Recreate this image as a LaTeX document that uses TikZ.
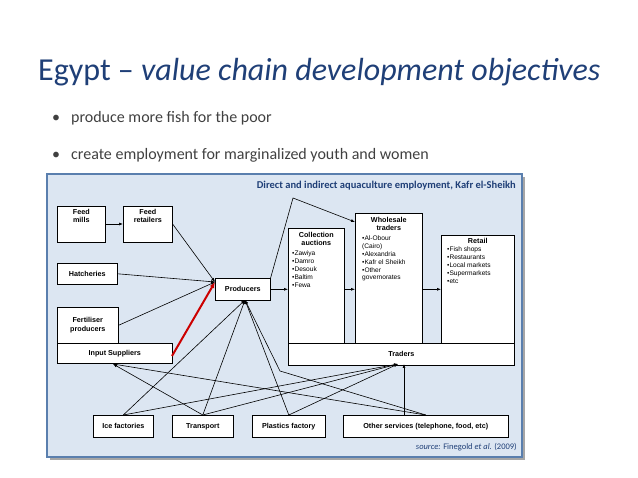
\documentclass[tikz,border=0pt]{standalone}
\usepackage{fontspec}
\setmainfont{Carlito}
\newfontfamily\arialf{Liberation Sans}
\usetikzlibrary{arrows.meta}
\definecolor{titleblue}{HTML}{1F3F77}
\definecolor{panelfill}{HTML}{DCE6F2}
\definecolor{panelline}{HTML}{5A7FAE}
\definecolor{bodygray}{HTML}{404040}
\begin{document}
\begin{tikzpicture}[x=1pt,y=-1pt,
  bx/.style={draw=black,fill=white,line width=0.6pt,font=\arialf\bfseries\fontsize{7.2}{8.4}\selectfont,align=center,inner sep=1pt},
  lb/.style={font=\arialf\bfseries\fontsize{7.2}{8.4}\selectfont,align=center,inner sep=0pt,anchor=north},
  ar/.style={draw=black,line width=0.6pt,-{Latex[length=4pt,width=3pt]}},
  lst/.style={font=\arialf\fontsize{6.6}{7.8}\selectfont,align=left,anchor=north west,inner sep=0pt}]
\useasboundingbox (0,0) rectangle (638,478);
\node[anchor=west,text=titleblue,font=\fontsize{32}{35}\selectfont,inner sep=0pt] (title) at (38,72) {Egypt -- \textit{value chain development objectives}};
\node[anchor=west,text=bodygray,font=\fontsize{16}{19}\selectfont,inner sep=0pt] (b1) at (52,118) {\textbullet\hspace{11pt}produce more fish for the poor};
\node[anchor=west,text=bodygray,font=\fontsize{16}{19}\selectfont,inner sep=0pt] (b2) at (52,155) {\textbullet\hspace{11pt}create employment for marginalized youth and women};
% panel
\fill[black!35] (50,177) rectangle (525,460);
\draw[fill=panelfill,draw=panelline,line width=1.2pt] (47,174) rectangle (522,457);
\node[anchor=east,text=titleblue,font=\bfseries\fontsize{10.5}{12}\selectfont,inner sep=0pt] (hdr) at (516,186) {Direct and indirect aquaculture employment, Kafr el-Sheikh};
\node[anchor=east,text=titleblue,font=\fontsize{8.5}{10}\selectfont,inner sep=0pt] (src) at (517,447) {\textit{source:} Finegold \textit{et al.} (2009)};
% boxes
\node[bx,minimum width=48pt,minimum height=36pt,anchor=north west] (fm) at (57,206) {};
\node[lb] at ([yshift=-3pt]fm.north) {Feed\\mills};
\node[bx,minimum width=49pt,minimum height=36pt,anchor=north west] (fr) at (123,206) {};
\node[lb] at ([yshift=-3pt]fr.north) {Feed\\retailers};
\node[bx,minimum width=60pt,minimum height=21pt,anchor=north west] (hat) at (57,263) {Hatcheries};
\node[bx,minimum width=61pt,minimum height=36pt,anchor=north west] (fp) at (57,307) {Fertiliser\\producers};
\node[bx,minimum width=115pt,minimum height=20pt,anchor=north west] (is) at (57,343) {Input Suppliers};
\node[bx,minimum width=55pt,minimum height=22pt,anchor=north west] (pr) at (215,278) {Producers};
\node[bx,minimum width=56pt,minimum height=115pt,anchor=north west] (ca) at (288,228) {};
\node[lb] at ([yshift=-4pt]ca.north) {Collection\\auctions};
\node[lst] at (292,251) {\textbullet Zawiya\\\textbullet Damro\\\textbullet Desouk\\\textbullet Baltim\\\textbullet Fewa};
\node[bx,minimum width=67pt,minimum height=130pt,anchor=north west] (wt) at (355,213) {};
\node[lb] at ([yshift=-4pt]wt.north) {Wholesale\\traders};
\node[lst] at (362,236) {\textbullet Al-Obour\\(Cairo)\\\textbullet Alexandria\\\textbullet Kafr el Sheikh\\\textbullet Other\\governorates};
\node[bx,minimum width=73pt,minimum height=108pt,anchor=north west] (rt) at (441,235) {};
\node[lb] at ([yshift=-3pt]rt.north) {Retail};
\node[lst] at (447,247) {\textbullet Fish shops\\\textbullet Restaurants\\\textbullet Local markets\\\textbullet Supermarkets\\\textbullet etc};
\node[bx,minimum width=226pt,minimum height=22pt,anchor=north west] (tr) at (288,343) {Traders};
\node[bx,minimum width=60pt,minimum height=22pt,anchor=north west] (ice) at (93,415) {Ice factories};
\node[bx,minimum width=61pt,minimum height=22pt,anchor=north west] (tp) at (172,415) {Transport};
\node[bx,minimum width=73pt,minimum height=22pt,anchor=north west] (pf) at (252,415) {Plastics factory};
\node[bx,minimum width=165pt,minimum height=22pt,anchor=north west] (os) at (343,415) {Other services (telephone, food, etc)};
% coordinates
\coordinate (prin) at (215,282);
\coordinate (prb) at (245,300);
\coordinate (isb) at (113,364);
\coordinate (trb) at (398,364);
\coordinate (bend) at (293,198);
\coordinate (osbend) at (280,371);
\coordinate (isr) at (172,356);
% arrows
\draw[ar] (fm.east |- 0,224) -- (fr.west |- 0,224);
\draw[ar] (fr.east |- 0,224) -- (prin);
\draw[ar] (hat.east) -- (prin);
\draw[ar] (fp.east) -- (prin);
\draw[draw=red!80!black,line width=2pt,-{Latex[length=6pt,width=5pt]}] (isr) -- (prin);
\draw[ar] (pr.east) -- (pr.east -| ca.west);
\draw[ar] (ca.east |- pr.east) -- (wt.west |- pr.east);
\draw[ar] (wt.east |- pr.east) -- (rt.west |- pr.east);
\draw[ar] (pr.north east) -- (bend) -- (wt.west |- 0,222);
\draw[ar] (ice.north) -- (prb);
\draw[ar] (tp.north) -- (prb);
\draw[ar] (pf.north) -- (prb);
\draw[ar] (os.north) -- (osbend) -- (prb);
\draw[ar] (tp.north) -- (isb);
\draw[ar] (os.north) -- (isb);
\draw[ar] (ice.north) -- (trb);
\draw[ar] (tp.north) -- (trb);
\draw[ar] (pf.north) -- (trb);
\draw[ar] (os.north -| 404,0) -- (404,364);
\end{tikzpicture}
\end{document}
